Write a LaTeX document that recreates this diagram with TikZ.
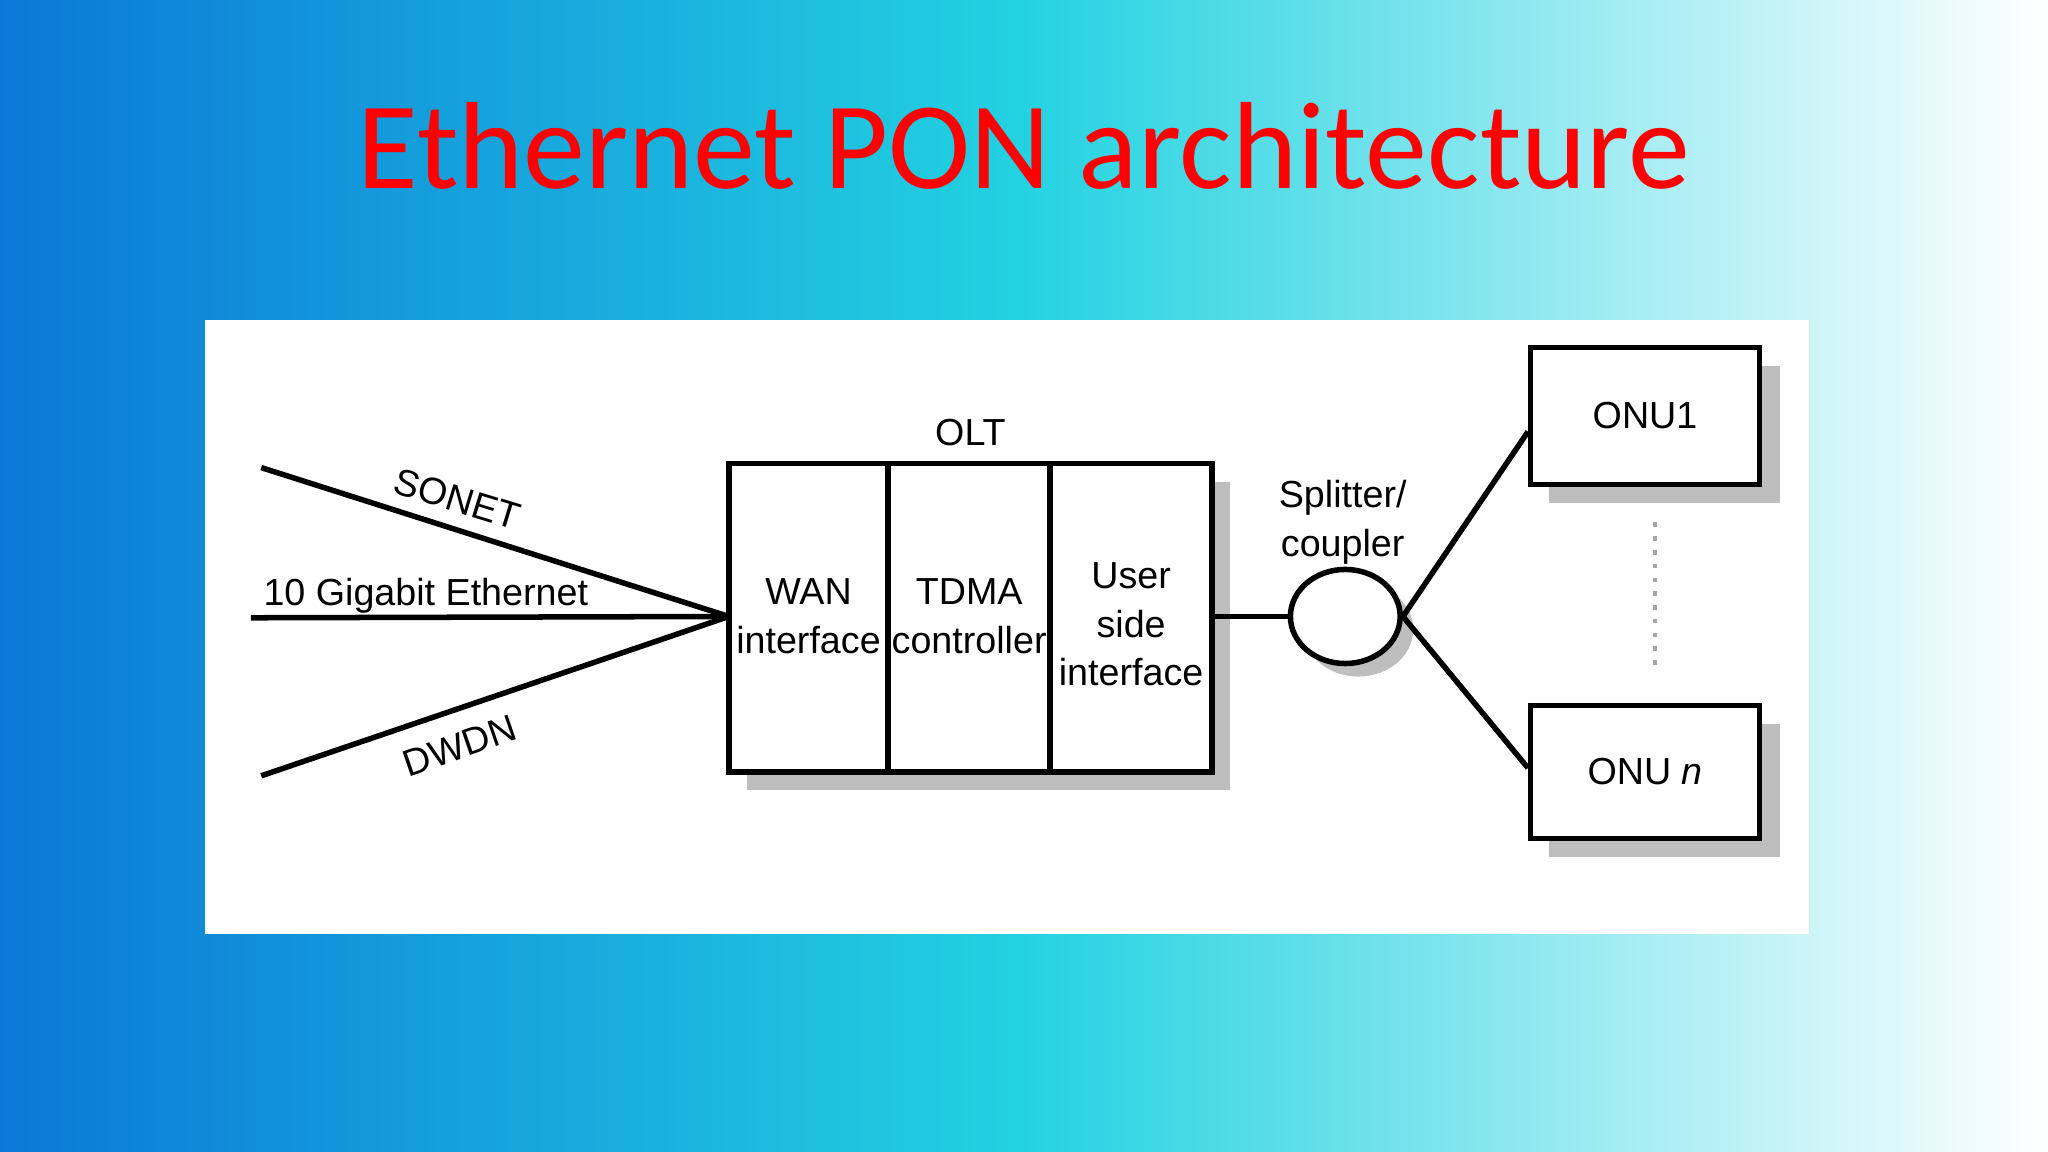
\documentclass[tikz,border=0pt]{standalone}
\usepackage{fontspec}
\setmainfont{Liberation Sans}
\newfontfamily\titlefont{Carlito}
\usetikzlibrary{shapes.geometric}
\definecolor{bgblue}{RGB}{10,120,215}
\definecolor{bgcyan}{RGB}{35,210,225}
\definecolor{shad}{RGB}{190,190,190}
\begin{document}
\begin{tikzpicture}[x=0.01cm,y=-0.01cm,
  box/.style={draw=black,line width=1.2pt,fill=white},
  lbl/.style={font=\fontsize{8.2}{9.6}\selectfont,align=center,inner sep=0pt},
  wire/.style={line width=1.2pt}]
\useasboundingbox (0,0) rectangle (1568,882);
\shade[left color=bgblue,right color=white,middle color=bgcyan] (0,0) rectangle (1568,882);
\node[text=red,font=\titlefont\fontsize{27}{30}\selectfont] (title) at (784,112) {Ethernet PON architecture};
\fill[white] (157,245) rectangle (1385,715);
% shadows
\fill[shad] (572,369) rectangle (942,605);
\fill[shad] (1186,280) rectangle (1363,385);
\fill[shad] (1186,554) rectangle (1363,656);
\fill[shad] (1040,482) ellipse (42 and 36);
% OLT
\draw[box] (558,355) rectangle (928,591);
\draw[wire] (680,355) -- (680,591);
\draw[wire] (804,355) -- (804,591);
\coordinate (oltw) at (558,472);
\coordinate (olte) at (928,472);
\node[lbl] (olt) at (743,331) {OLT};
\node[lbl] (wan) at (619,472) {WAN\\[1pt]interface};
\node[lbl] (tdma) at (742,472) {TDMA\\[1pt]controller};
\node[lbl] (usi) at (866,478) {User\\[1pt]side\\[1pt]interface};
% inputs
\coordinate (s1) at (200,358);
\coordinate (s2) at (192,473);
\coordinate (s3) at (200,594);
\draw[wire] (s1) -- (oltw);
\draw[wire] (s2) -- (oltw);
\draw[wire] (s3) -- (oltw);
\node[lbl,rotate=-17] (sonet) at (350,382) {SONET};
\node[lbl] (ge) at (326,456) {10 Gigabit Ethernet};
\node[lbl,rotate=19] (dwdn) at (352,571) {DWDN};
% splitter
\node[draw,ellipse,line width=1.2pt,fill=white,minimum width=0.84cm,minimum height=0.72cm,inner sep=0pt] (sp) at (1030,472) {};
\node[lbl] (splbl) at (1028,400) {Splitter/\\[1pt]coupler};
\draw[wire] (olte) -- (sp.west);
% ONUs
\node[box,minimum width=1.75cm,minimum height=1.05cm,inner sep=0pt,lbl] (onu1) at (1259.5,318.5) {ONU1};
\node[box,minimum width=1.75cm,minimum height=1.02cm,inner sep=0pt,lbl] (onun) at (1259.5,591) {ONU \textit{n}};
\draw[wire] (sp.east) -- ([yshift=-0.12cm]onu1.west);
\draw[wire] (sp.east) -- ([yshift=0.03cm]onun.west);
\coordinate (d1) at (1267,400);
\coordinate (d2) at (1267,515);
\draw[gray!70,dotted,line width=1pt] (d1) -- (d2);
\end{tikzpicture}
\end{document}
